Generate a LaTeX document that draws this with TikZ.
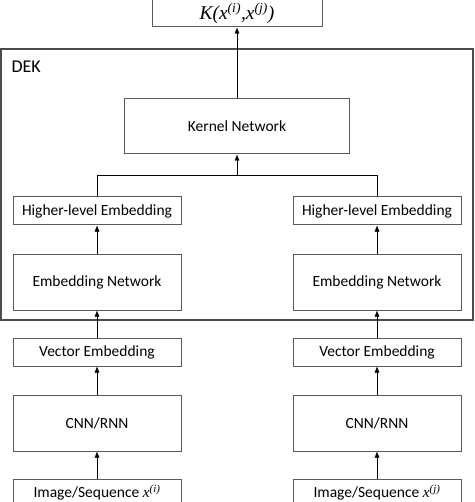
\documentclass[tikz,border=0pt]{standalone}
\usepackage{fontspec}
\setmainfont{Carlito}
\newfontfamily\tnr{Liberation Serif}
\usetikzlibrary{arrows.meta,positioning}
\tikzset{
	->, >={Latex[length=6pt,width=5pt]}, line width=0.8pt, draw=black!75,
	box/.style={draw=black!65, line width=1pt, fill=white, inner sep=0pt, minimum width=168pt, minimum height=28pt, font=\fontsize{15.5}{18}\selectfont},
	bigbox/.style={box, minimum height=56pt},
}

\begin{document}
\begin{tikzpicture}[x=1pt, y=1pt]
	\useasboundingbox (0,0) rectangle (474,-502);
	% DEK frame
	\draw[-, draw=black!70, line width=1.6pt] (0.8,-49) rectangle (473,-320);
	\node[anchor=west, font=\fontsize{18}{20}\selectfont] (dek) at (8,-67) {DEK};

	\node[box, minimum width=170pt, minimum height=27pt, font=\fontsize{19.5}{22}\selectfont\tnr\itshape] (kout) at (237,-13.5) {K(x\textsuperscript{(i)},x\textsuperscript{(j)})};
	\node[bigbox, minimum width=225pt, minimum height=55pt, below=71pt of kout] (kernel) {Kernel Network};

	\node[box, below=42pt of kernel, xshift=-140pt] (hl1) {Higher-level Embedding};
	\node[box, right=111pt of hl1] (hl2) {Higher-level Embedding};
	\node[bigbox, below=28pt of hl1] (en1) {Embedding Network};
	\node[bigbox, below=28pt of hl2] (en2) {Embedding Network};
	\node[box, below=27pt of en1] (ve1) {Vector Embedding};
	\node[box, below=27pt of en2] (ve2) {Vector Embedding};
	\node[bigbox, below=28pt of ve1] (cnn1) {CNN/RNN};
	\node[bigbox, below=28pt of ve2] (cnn2) {CNN/RNN};
	\node[box, minimum height=27pt, below=27pt of cnn1] (img1) {Image/Sequence {\tnr\itshape x\textsuperscript{(i)}}};
	\node[box, minimum height=27pt, below=27pt of cnn2] (img2) {Image/Sequence {\tnr\itshape x\textsuperscript{(j)}}};

	\coordinate[below=21pt of kernel] (merge);
	\draw (kernel) -- (kout);
	\draw[-] (hl1.north) |- (merge) -| (hl2.north);
	\draw (merge) -- (kernel);
	\draw (en1) -- (hl1);
	\draw (en2) -- (hl2);
	\draw (ve1) -- (en1);
	\draw (ve2) -- (en2);
	\draw (cnn1) -- (ve1);
	\draw (cnn2) -- (ve2);
	\draw (img1) -- (cnn1);
	\draw (img2) -- (cnn2);
\end{tikzpicture}
\end{document}
